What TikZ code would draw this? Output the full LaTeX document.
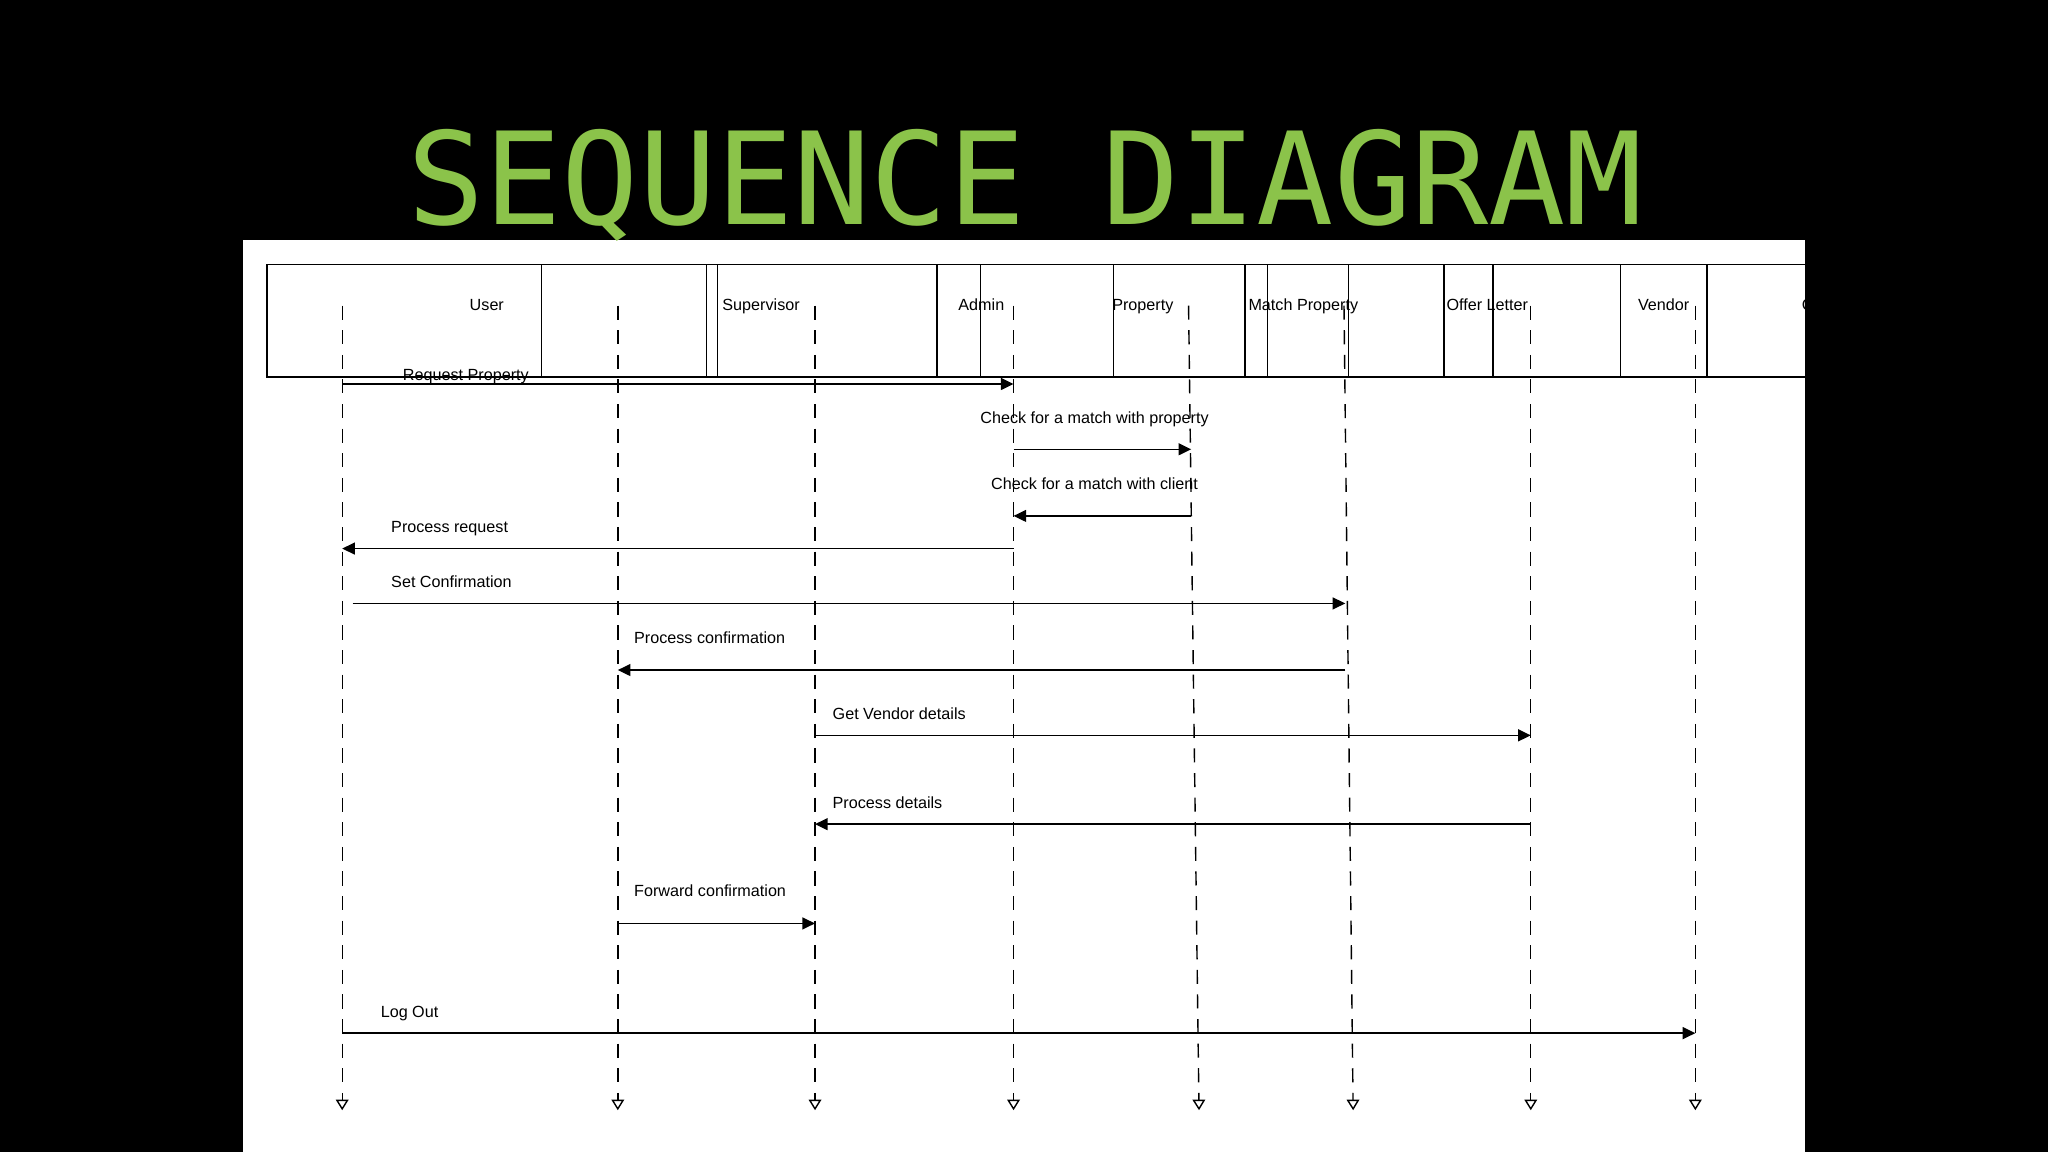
\documentclass[tikz,border=0pt]{standalone}
\usepackage{fontspec}
\setmainfont{Liberation Sans}
\newfontfamily\titlefont{DejaVu Sans Mono}
\usetikzlibrary{arrows.meta}
\definecolor{titlegreen}{HTML}{8BC34A}

\tikzset{
  actor/.style={draw, thin, minimum height=32, inner sep=0pt, anchor=north west,
    font=\fontsize{4.6}{5}\selectfont, text depth=0pt},
  life/.style={thin, dash pattern=on 4pt off 3pt, -{Triangle[open,length=3pt,width=3.6pt]}},
  msg/.style={thin, -{Triangle[length=3.6pt,width=3.4pt]}},
  lbl/.style={font=\fontsize{4.6}{5}\selectfont, inner sep=0pt}
}

\begin{document}
\begin{tikzpicture}[x=0.013061cm, y=-0.013061cm]
  \fill[black] (0,0) rectangle (1568,882);
  \useasboundingbox (0,0) rectangle (1568,882);
  \fill[white] (186,184) rectangle (1382,882);

  \node[font=\titlefont\fontsize{36.5}{40}\selectfont, text=titlegreen, anchor=base]
    (title) at (785,172) {SEQUENCE DIAGRAM};

  % actors
  \node[actor, minimum width=125] (user) at (204,202) {\raisebox{9pt}{User}};
  \node[actor, minimum width=125] (sup) at (414,202) {\raisebox{9pt}{Supervisor}};
  \node[actor, minimum width=150] (admin) at (549,202) {\raisebox{9pt}{Admin}};
  \node[actor, minimum width=117] (prop) at (717,202) {\raisebox{9pt}{Property}};
  \node[actor, minimum width=108] (match) at (852,202) {\raisebox{9pt}{Match Property}};
  \node[actor, minimum width=125] (offer) at (970,202) {\raisebox{9pt}{Offer Letter}};
  \node[actor, minimum width=125] (vendor) at (1105,202) {\raisebox{9pt}{Vendor}};
  \node[actor, minimum width=125] (check) at (1240,202) {\raisebox{9pt}{Check Out}};

  % lifelines
  \foreach \n/\x/\xe in {user/262/262, sup/473/473, admin/624/624, prop/776/776,
      match/910/918, offer/1029/1036, vendor/1172/1172, check/1298/1298} {
    \coordinate (\n-top) at (\x,234);
    \coordinate (\n-end) at (\xe,850);
    \draw[life] (\n-top) -- (\n-end);
  }

  % messages
  \draw[msg] (262,294) -- (776,294);
  \node[lbl, anchor=base west] (m1) at (308,291) {Request Property};
  \draw[msg] (776,344) -- (912,344);
  \node[lbl, anchor=base] (m2) at (838,324) {Check for a match with property};
  \draw[msg] (912,395) -- (776,395);
  \node[lbl, anchor=base] (m3) at (838,375) {Check for a match with client};
  \draw[msg] (776,420) -- (262,420);
  \node[lbl, anchor=base west] (m4) at (299,408) {Process request};
  \draw[msg] (270,462) -- (1030,462);
  \node[lbl, anchor=base west] (m5) at (299,450) {Set Confirmation};
  \draw[msg] (1030,513) -- (473,513);
  \node[lbl, anchor=base west] (m6) at (485,493) {Process confirmation};
  \draw[msg] (624,563) -- (1172,563);
  \node[lbl, anchor=base west] (m7) at (637,551) {Get Vendor details};
  \draw[msg] (1172,631) -- (624,631);
  \node[lbl, anchor=base west] (m8) at (637,619) {Process details};
  \draw[msg] (473,707) -- (624,707);
  \node[lbl, anchor=base west] (m9) at (485,686) {Forward confirmation};
  \draw[msg] (262,791) -- (1298,791);
  \node[lbl, anchor=base west] (m10) at (291,779) {Log Out};
\end{tikzpicture}
\end{document}
